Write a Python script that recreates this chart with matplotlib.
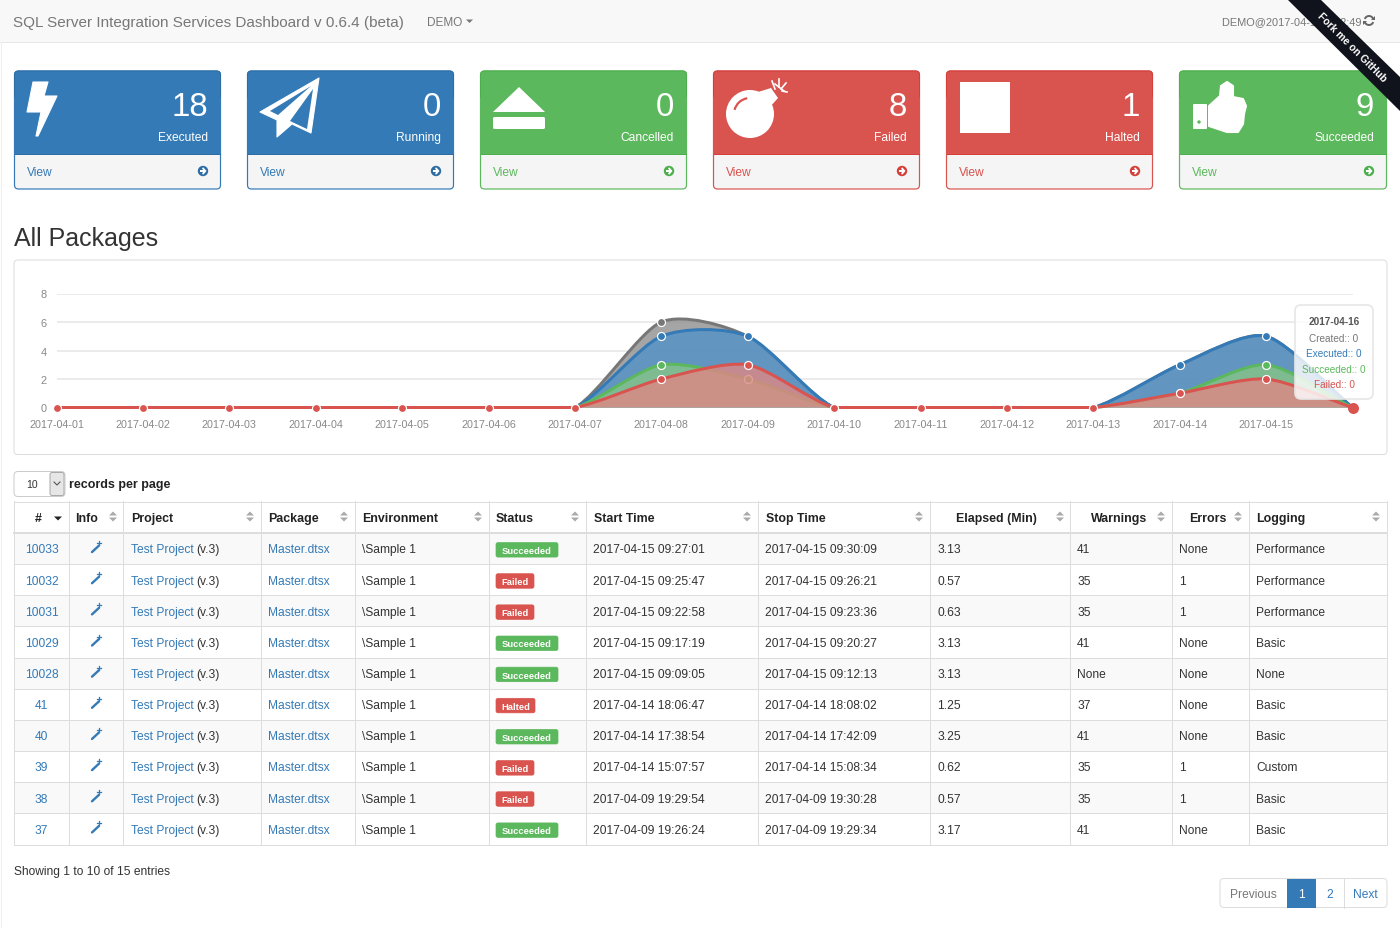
import colorsys
import matplotlib
matplotlib.use('Agg')
import matplotlib.pyplot as plt
from matplotlib.colors import to_rgb
from matplotlib.patches import Rectangle, FancyBboxPatch, Polygon, Circle, PathPatch, Arc
from matplotlib.path import Path

plt.rcParams['font.family'] = ['Liberation Sans', 'DejaVu Sans']

# ---------- data ----------
dates = ['2017-04-%02d' % d for d in range(1, 17)]
created = [0, 0, 0, 0, 0, 0, 0, 6, 5, 0, 0, 0, 0, 3, 5, 0]
executed = [0, 0, 0, 0, 0, 0, 0, 5, 5, 0, 0, 0, 0, 3, 5, 0]
succeeded = [0, 0, 0, 0, 0, 0, 0, 3, 2, 0, 0, 0, 0, 1, 3, 0]
failed = [0, 0, 0, 0, 0, 0, 0, 2, 3, 0, 0, 0, 0, 1, 2, 0]
y_ticks = [0, 2, 4, 6, 8]

card_values = ['18', '0', '0', '8', '1', '9']
card_labels = ['Executed', 'Running', 'Cancelled', 'Failed', 'Halted', 'Succeeded']

headers = ['#', 'Info', 'Project', 'Package', 'Environment', 'Status', 'Start Time',
           'Stop Time', 'Elapsed (Min)', 'Warnings', 'Errors', 'Logging']
ids = ['10033', '10032', '10031', '10029', '10028', '41', '40', '39', '38', '37']
statuses = ['Succeeded', 'Failed', 'Failed', 'Succeeded', 'Succeeded', 'Halted',
            'Succeeded', 'Failed', 'Failed', 'Succeeded']
starts = ['2017-04-15 09:27:01', '2017-04-15 09:25:47', '2017-04-15 09:22:58',
          '2017-04-15 09:17:19', '2017-04-15 09:09:05', '2017-04-14 18:06:47',
          '2017-04-14 17:38:54', '2017-04-14 15:07:57', '2017-04-09 19:29:54',
          '2017-04-09 19:26:24']
stops = ['2017-04-15 09:30:09', '2017-04-15 09:26:21', '2017-04-15 09:23:36',
         '2017-04-15 09:20:27', '2017-04-15 09:12:13', '2017-04-14 18:08:02',
         '2017-04-14 17:42:09', '2017-04-14 15:08:34', '2017-04-09 19:30:28',
         '2017-04-09 19:29:34']
elapsed = ['3.13', '0.57', '0.63', '3.13', '3.13', '1.25', '3.25', '0.62', '0.57', '3.17']
warnings_ = ['41', '35', '35', '41', 'None', '37', '41', '35', '35', '41']
errors = ['None', '1', '1', 'None', 'None', 'None', 'None', '1', '1', 'None']
logging_ = ['Performance', 'Performance', 'Performance', 'Basic', 'None', 'Basic',
            'Basic', 'Custom', 'Basic', 'Basic']

# ---------- palette ----------
BLUE, GREEN, RED, GRAY = '#337ab7', '#5cb85c', '#d9534f', '#777777'
LINK = '#337ab7'
TEXT = '#333333'
BORDER = '#dddddd'
HAIR = 0.72


def px(v):
    return v * 0.72


def lighter(col):
    """Area fill colour: saturation x 0.9, lightness x 1.2 of the line colour."""
    h, l, s = colorsys.rgb_to_hls(*to_rgb(col))
    return colorsys.hls_to_rgb(h, min(.98, l * 1.2), s * .9)


fig = plt.figure(figsize=(14, 9.29), dpi=100, facecolor='white')
ui = fig.add_axes([0, 0, 1, 1])
ui.set_xlim(0, 1400)
ui.set_ylim(929, 0)
ui.axis('off')


def rect(x0, y0, x1, y1, fc, ec='none', lw=0, z=1, ax=ui):
    r = Rectangle((x0, y0), x1 - x0, y1 - y0, fc=fc, ec=ec, lw=lw, zorder=z)
    ax.add_patch(r)
    return r


def rrect(x0, y0, x1, y1, fc, ec='none', lw=0, z=1, r=4):
    p = FancyBboxPatch((x0 + r, y0 + r), x1 - x0 - 2 * r, y1 - y0 - 2 * r,
                       boxstyle='round,pad=%g,rounding_size=%g' % (r, r),
                       fc=fc, ec=ec, lw=lw, zorder=z)
    ui.add_patch(p)
    return p


def txt(x, y, s, size=12, color=TEXT, ha='left', weight='normal', z=5, **kw):
    # y is the middle of the capitals: place by baseline so rows stay level
    return ui.text(x, y + .358 * size, s, fontsize=px(size), color=color, ha=ha, va='baseline',
                   fontweight=weight, zorder=z, **kw)


def poly(pts, fc, ec='none', lw=0, z=4):
    p = Polygon(pts, closed=True, fc=fc, ec=ec, lw=lw, zorder=z, joinstyle='round')
    ui.add_patch(p)
    return p


# ---------- navbar ----------
rect(0, 0, 1400, 42.5, '#f8f8f8')
ui.plot([0, 1400], [43, 43], color='#e7e7e7', lw=HAIR, zorder=2)
ui.plot([0.5, 0.5], [43, 929], color='#eeeeee', lw=HAIR, zorder=2)
txt(13, 22, 'SQL Server Integration Services Dashboard v 0.6.4 (beta)', 15.2, GRAY)
txt(427, 21.5, 'DEMO', 11.7, GRAY)
poly([(466, 20.5), (473, 20.5), (469.5, 24)], GRAY)
txt(1361, 21.5, 'DEMO@2017-04-16 9:22:49', 11.05, GRAY, ha='right')
ui.add_patch(Arc((1369, 21.5), 9, 9, theta1=200, theta2=340, color='#666666', lw=1.4, zorder=5))
ui.add_patch(Arc((1369, 21.5), 9, 9, theta1=20, theta2=160, color='#666666', lw=1.4, zorder=5))
poly([(1371, 21), (1375, 21), (1375, 17)], '#666666')
poly([(1363, 22), (1367, 22), (1363, 26)], '#666666')

# ribbon
poly([(1287, 0), (1320, 0), (1400, 78), (1400, 112)], '#11131c', z=8)
ui.text(1352, 48, 'Fork me on GitHub', fontsize=px(10.2), color='white', fontweight='bold',
        rotation=-45, rotation_mode='anchor', ha='center', va='center', zorder=9)

# ---------- cards ----------
card_x = [(14, 221), (247, 454), (480, 687), (713, 920), (946, 1153), (1179, 1387)]
card_col = [BLUE, BLUE, GREEN, RED, RED, GREEN]
card_edge = ['#2e6da4', '#2e6da4', '#4cae4c', '#d43f3a', '#d43f3a', '#4cae4c']
for (x0, x1), c, e, v, lab in zip(card_x, card_col, card_edge, card_values, card_labels):
    rrect(x0 + .5, 72, x1 - .5, 190, '#f5f5f5', ec=c, lw=HAIR * 1.2, z=2)
    rrect(x0 + .5, 72, x1 - .5, 100, c, ec=e, lw=HAIR, z=2)
    rect(x0 + 1, 90, x1 - 1, 154.5, c, z=2)
    ui.plot([x0 + 1, x1 - 1], [154.5, 154.5], color=e, lw=HAIR, zorder=3)
    txt(x1 - 13, 104.5, v, 33, 'white', ha='right')
    txt(x1 - 13, 137, lab, 12, 'white', ha='right')
    txt(x0 + 13, 172, 'View', 12, c)
    ax_, ay_ = x1 - 18, 172
    ui.add_patch(Circle((ax_, ay_), 5.2, fc=e, ec='none', zorder=4))
    poly([(ax_ - 3, ay_ - 1), (ax_, ay_ - 1), (ax_ - 1, ay_ - 3), (ax_ + .5, ay_ - 3.5),
          (ax_ + 3.5, ay_), (ax_ + .5, ay_ + 3.5), (ax_ - 1, ay_ + 3), (ax_, ay_ + 1),
          (ax_ - 3, ay_ + 1)], 'white', z=5)

# icons
poly([(33, 83), (48, 83), (44, 97), (57, 97), (38, 137), (36, 137), (41, 113), (27, 113)],
     'white', ec='white', lw=0.8)
poly([(319, 79), (260, 113), (277, 121), (277, 138), (292, 125), (311, 134)], 'white', ec='white', lw=0.8)
poly([(311, 87), (270, 112), (278, 116)], BLUE, z=5)
poly([(313, 90), (290, 122), (307, 130)], BLUE, z=5)
poly([(519, 88), (493, 113), (545, 113)], 'white')
rrect(493, 118, 545, 130, 'white', z=4, r=1.5)
ui.add_patch(Circle((750, 115), 24, fc='white', ec='none', zorder=4))
poly([(758, 93), (771, 89), (778, 99), (770, 108)], 'white')
ui.add_patch(Arc((750, 115), 32, 32, theta1=195, theta2=260, color=RED, lw=1.6, zorder=5))
for a, b in [((775, 90), (772, 82)), ((779, 88), (779, 80)), ((781, 90), (786, 84)),
             ((782, 92), (787, 93)), ((775, 85), (784, 92))]:
    ui.plot([a[0], b[0]], [a[1], b[1]], color='white', lw=1.2, zorder=5)
rect(960, 83, 1010, 134, 'white', z=4)
rrect(1193, 105, 1207, 130, 'white', z=4, r=1)
ui.add_patch(Circle((1199, 123), 1.7, fc=GREEN, ec='none', zorder=5))
poly([(1209, 107), (1220, 97), (1221, 87), (1227, 83), (1233, 87), (1233, 98), (1243, 100),
      (1246, 107), (1244, 115), (1243, 125), (1238, 133), (1227, 133), (1209, 127)],
     'white', ec='white', lw=1.5)

# ---------- heading and chart panel ----------
txt(14, 237, 'All Packages', 25, TEXT)
rrect(14, 261, 1387, 455.5, 'white', ec=BORDER, lw=HAIR, z=1)

# chart axes, spanning 2017-04-01 .. 2017-04-16 and 0 .. 8
L, R, T, B = 56.5, 1352.5, 294.5, 408.5
ax = fig.add_axes([L / 1400, 1 - B / 929, (R - L) / 1400, (B - T) / 929], zorder=3)
ax.patch.set_alpha(0)
for s in ax.spines.values():
    s.set_visible(False)
xs = list(range(len(dates)))
ax.set_xlim(0, 15)
ax.set_ylim(0, 8)
ax.set_yticks(y_ticks)
ax.set_yticklabels([str(t) for t in y_ticks], fontsize=px(11), color='#888888')
ax.set_xticks(xs[:-1])
ax.set_xticklabels(dates[:-1], fontsize=px(10.8), color='#888888')
ax.tick_params(axis='both', length=0)
ax.tick_params(axis='x', pad=px(11.5))
ax.tick_params(axis='y', pad=px(10))
ax.xaxis.grid(False)
ax.yaxis.grid(True, color='#e6e6e6', lw=1.1, zorder=0)
ax.set_axisbelow(True)


def smooth_path(x, y):
    """Morris.js style bezier through the points, with controls held above the baseline."""
    n = len(x)
    g = []
    for i in range(n):
        if i == 0:
            g.append((y[1] - y[0]) / (x[1] - x[0]))
        elif i == n - 1:
            g.append((y[i] - y[i - 1]) / (x[i] - x[i - 1]))
        else:
            g.append((y[i + 1] - y[i - 1]) / (x[i + 1] - x[i - 1]))
    verts = [(x[0], y[0])]
    codes = [Path.MOVETO]
    for i in range(1, n):
        d = (x[i] - x[i - 1]) / 4
        verts += [(x[i - 1] + d, max(0, y[i - 1] + d * g[i - 1])),
                  (x[i] - d, max(0, y[i] - d * g[i])),
                  (x[i], y[i])]
        codes += [Path.CURVE4] * 3
    return verts, codes


series = [(created, GRAY), (executed, BLUE), (succeeded, GREEN), (failed, RED)]
z = 3
for vals, line in series:
    v, c = smooth_path(xs, vals)
    va = v + [(xs[-1], 0), (xs[0], 0), (xs[0], 0)]
    ca = c + [Path.LINETO, Path.LINETO, Path.CLOSEPOLY]
    ax.add_patch(PathPatch(Path(va, ca), fc=lighter(line), ec='none', alpha=0.8, zorder=z, clip_on=False))
    ax.add_patch(PathPatch(Path(v, c), fc='none', ec=line, lw=px(3), zorder=z + .1,
                           capstyle='round', clip_on=False))
    ax.plot(xs[:-1], vals[:-1], ls='none', marker='o', ms=px(8), mfc=line, mec='white', mew=px(1.2),
            zorder=z + .2, clip_on=False)
    z += 1
ax.plot(xs[-1:], failed[-1:], ls='none', marker='o', ms=px(11), mfc=RED, mec=RED, mew=0,
        zorder=z, clip_on=False)

# hover box over the last date
tip_v = [created[-1], executed[-1], succeeded[-1], failed[-1]]
tip_names = ['Created:', 'Executed:', 'Succeeded:', 'Failed:']
tip_cols = [GRAY, BLUE, GREEN, RED]
box = FancyBboxPatch((1299, 310), 70, 86, boxstyle='round,pad=4,rounding_size=6',
                     fc=(1, 1, 1, .82), ec='#e6e6e6', lw=1.2, zorder=20, clip_on=False,
                     transform=ui.transData)
ax.add_patch(box)
ax.text(1334, 322, dates[-1], fontsize=px(10), fontweight='bold', color='#555555', ha='center',
        va='center', zorder=21, transform=ui.transData)
for k, (nm, val, col) in enumerate(zip(tip_names, tip_v, tip_cols)):
    ax.text(1334, 338.5 + k * 15.5, '%s: %d' % (nm, val), fontsize=px(10), color=col, ha='center',
            va='center', zorder=21, transform=ui.transData)

# ---------- records per page ----------
rrect(14, 472.5, 65, 497.5, 'white', ec='#cccccc', lw=HAIR, z=2)
rrect(50, 473.5, 64, 496.5, '#e6e6e6', ec='#aaaaaa', lw=HAIR, z=3, r=2)
ui.plot([54, 57, 60], [483, 486, 483], color='#555555', lw=.8, zorder=4)
txt(32, 484.5, '10', 10.5, TEXT, ha='center')
txt(69, 484, 'records per page', 12.5, '#222222', weight='bold')

# ---------- table ----------
col_edges = [13.5, 68.5, 122.5, 260.5, 354.5, 488.5, 585.5, 757.5, 929.5, 1069.5, 1171.5, 1248.5, 1386.5]
head_x = [38, 75, 131, 268, 362, 496, 594, 766, 956, 1091, 1189, 1256]
sort_x = [58, 113, 250, 344, 478, 575, 747, 919, 1060, 1161, 1238, 1376]
cell_x = {'start': 593, 'stop': 765, 'el': 937, 'warn': 1077, 'err': 1179, 'log': 1256}
head_top, head_bot = 502, 534
row_h = 31.15
n = len(ids)
bottom = head_bot + n * row_h

for i in range(0, n, 2):
    rect(14, head_bot + i * row_h, 1387, head_bot + (i + 1) * row_h, '#f9f9f9', z=1)
for e in col_edges:
    ui.plot([e + .5, e + .5], [head_top, bottom], color=BORDER, lw=HAIR, zorder=2)
ui.plot([14, 1387], [head_top + .5, head_top + .5], color=BORDER, lw=HAIR, zorder=2)
ui.plot([14, 1387], [head_bot, head_bot], color=BORDER, lw=1.44, zorder=2)
for i in range(1, n + 1):
    ui.plot([14, 1387], [head_bot + i * row_h] * 2, color=BORDER, lw=HAIR, zorder=2)

hy = 517.5
for h, hx, sx in zip(headers, head_x, sort_x):
    txt(hx, hy, h, 12.4, '#222222', weight='bold', ha='center' if h == '#' else 'left')
    if h == '#':
        poly([(sx - 4, hy), (sx + 4, hy), (sx, hy + 4)], '#222222')
    else:
        poly([(sx - 4, hy - 1), (sx + 4, hy - 1), (sx, hy - 5)], '#aaaaaa')
        poly([(sx - 4, hy + 1), (sx + 4, hy + 1), (sx, hy + 5)], '#aaaaaa')

status_col = {'Succeeded': (GREEN, 62), 'Failed': (RED, 38), 'Halted': (RED, 39)}
for i in range(n):
    y = head_bot - .5 + (i + .5) * row_h
    txt(41.5, y, ids[i], 12, LINK, ha='center')
    # wand
    ui.plot([92, 99], [y + 4, y - 2.5], color=LINK, lw=1.7, zorder=4, solid_capstyle='round')
    ui.plot([97, 101], [y - 5, y - 5], color=LINK, lw=.9, zorder=4)
    ui.plot([99, 99], [y - 7, y - 3], color=LINK, lw=.9, zorder=4)
    txt(131, y, 'Test Project', 12, LINK)
    txt(196, y, '(v.3)', 12, TEXT)
    txt(268, y, 'Master.dtsx', 12, LINK)
    txt(362, y, '\\Sample 1', 12, TEXT)
    c, w = status_col[statuses[i]]
    rrect(496, y - 5.5, 496 + w, y + 9, c, ec=c, lw=.5, z=3, r=2)
    txt(496 + w / 2, y + 1.6, statuses[i], 9.4, 'white', ha='center', weight='bold')
    txt(cell_x['start'], y, starts[i], 12)
    txt(cell_x['stop'], y, stops[i], 12)
    txt(cell_x['el'], y, elapsed[i], 12)
    txt(cell_x['warn'], y, warnings_[i], 12)
    txt(cell_x['err'], y, errors[i], 12)
    txt(cell_x['log'], y, logging_[i], 12)

txt(14, 871, 'Showing 1 to 10 of 15 entries', 12, TEXT)

# ---------- pagination ----------
rrect(1220, 879.5, 1387, 908.5, 'white', ec=BORDER, lw=HAIR, z=2)
rect(1287, 879.5, 1316, 908.5, BLUE, z=3)
ui.plot([1343.5, 1343.5], [879.5, 908.5], color=BORDER, lw=HAIR, zorder=3)
txt(1253.5, 893.5, 'Previous', 12, GRAY, ha='center')
txt(1301.5, 893.5, '1', 12, 'white', ha='center')
txt(1329.5, 893.5, '2', 12, LINK, ha='center')
txt(1365, 893.5, 'Next', 12, LINK, ha='center')

fig.savefig('out.png', dpi=100, facecolor='white')
